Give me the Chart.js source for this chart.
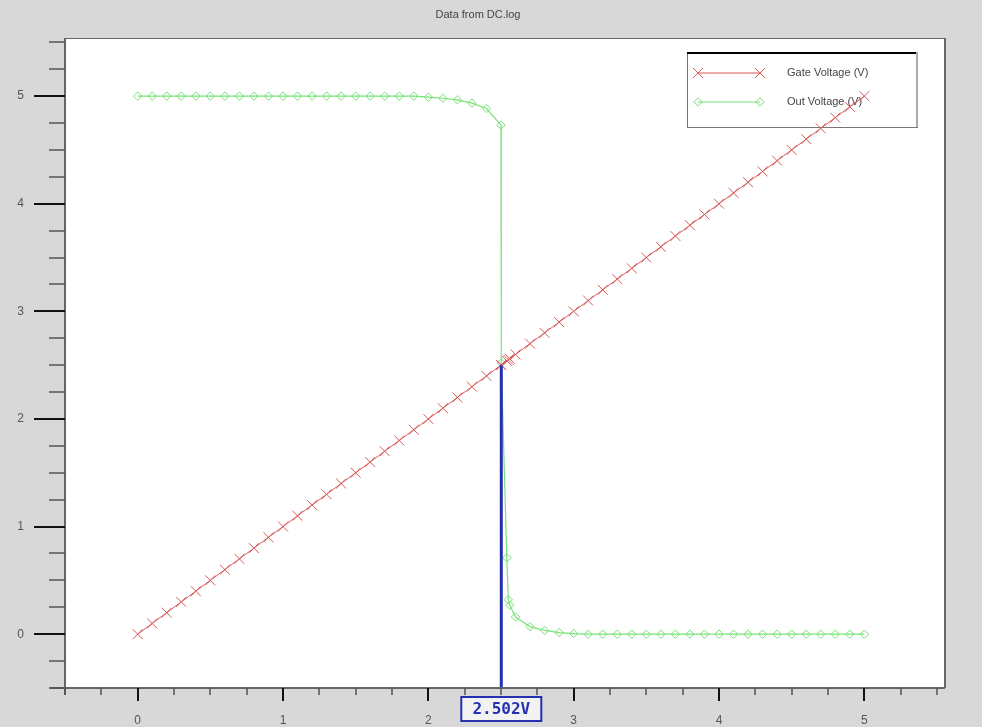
<!DOCTYPE html>
<html><head><meta charset="utf-8">
<script src="https://cdn.jsdelivr.net/npm/chart.js@4.4.0/dist/chart.umd.min.js"></script>
<style>html,body{margin:0;padding:0;background:#d8d8d8;}#wrap{width:982px;height:727px;}</style>
</head><body><div id="wrap"><canvas id="c" width="982" height="727"></canvas></div>
<script>
// ---- data ----
const titleText = 'Data from DC.log';
const sweepV = [0,0.1,0.2,0.3,0.4,0.5,0.6,0.7,0.8,0.9,1.0,1.1,1.2,1.3,1.4,1.5,1.6,1.7,1.8,1.9,
  2.0,2.1,2.2,2.3,2.4,2.5,2.502,2.54,2.55,2.56,2.6,2.7,2.8,2.9,3.0,
  3.1,3.2,3.3,3.4,3.5,3.6,3.7,3.8,3.9,4.0,4.1,4.2,4.3,4.4,4.5,4.6,4.7,4.8,4.9,5.0];
const gateV = [0,0.1,0.2,0.3,0.4,0.5,0.6,0.7,0.8,0.9,1.0,1.1,1.2,1.3,1.4,1.5,1.6,1.7,1.8,1.9,
  2.0,2.1,2.2,2.3,2.4,2.5,2.502,2.54,2.55,2.56,2.6,2.7,2.8,2.9,3.0,
  3.1,3.2,3.3,3.4,3.5,3.6,3.7,3.8,3.9,4.0,4.1,4.2,4.3,4.4,4.5,4.6,4.7,4.8,4.9,5.0];
const outV = [5,5,5,5,5,5,5,5,5,5,5,5,5,5,5,5,5,5,5,5,
  4.99,4.98,4.965,4.935,4.885,4.73,2.52,0.71,0.32,0.27,0.16,0.07,0.035,0.015,0.006,
  0,0,0,0,0,0,0,0,0,0,0,0,0,0,0,0,0,0,0,0];
const seriesNames = ['Gate Voltage (V)', 'Out Voltage (V)'];
const cursorX = [2.502, 2.502];
const cursorY = [2.5, -0.5];
const cursorUnit = 'V';
const xRange = [-0.5, 5.555];
const yRange = [-0.5, 5.54];
const majorStep = 1;
const minorStep = 0.25;

const RED = '#d85a5a', GREEN = '#78e278', BLUE = '#2430b0';

function pts(xs, ys){ return xs.map((x,i)=>({x:x, y:ys[i]})); }

const plotBg = {
  id:'plotBg',
  beforeDraw(chart){
    const {ctx, chartArea:a} = chart;
    ctx.save(); ctx.fillStyle='#ffffff';
    ctx.fillRect(a.left, a.top, a.right-a.left, a.bottom-a.top);
    ctx.restore();
  }
};

const boxLegend = {
  id:'boxLegend',
  beforeDatasetsDraw(chart){
    const {ctx, chartArea:a} = chart;
    const L = a.right - 258, T = a.top + 14, W = 230, H = 75;
    ctx.save();
    ctx.fillStyle='#fff'; ctx.fillRect(L,T,W,H);
    ctx.strokeStyle='#777'; ctx.lineWidth=1; ctx.strokeRect(L+0.5,T+0.5,W,H);
    ctx.strokeStyle='#000'; ctx.lineWidth=2; ctx.beginPath(); ctx.moveTo(L,T+1); ctx.lineTo(L+W,T+1); ctx.stroke();
    ctx.strokeStyle='#aaa'; ctx.lineWidth=2; ctx.beginPath(); ctx.moveTo(L+W,T); ctx.lineTo(L+W,T+H); ctx.stroke();
    const ds = chart.data.datasets.filter(d=>d.inLegend);
    ds.forEach((d,i)=>{
      const y = T + 21 + i*29;
      const x1 = L + 11, x2 = L + 73;
      ctx.strokeStyle=d.borderColor; ctx.lineWidth=1;
      ctx.beginPath(); ctx.moveTo(x1,y); ctx.lineTo(x2,y); ctx.stroke();
      [x1,x2].forEach(px=>{
        ctx.fillStyle='rgba(255,255,255,0)'; ctx.strokeStyle=d.borderColor; ctx.lineWidth=1;
        Chart.helpers.drawPoint(ctx, {pointStyle:d.pointStyle, radius:d.pointRadius, borderWidth:1, rotation:0}, px, y);
      });
      ctx.fillStyle='#444'; ctx.font='11px "Liberation Sans", Arial, sans-serif';
      ctx.textBaseline='middle'; ctx.textAlign='left';
      ctx.fillText(d.label, L + 100, y);
    });
    ctx.restore();
  }
};

const deco = {
  id:'deco',
  afterDraw(chart){
    const {ctx, chartArea:a, scales} = chart;
    const xs = scales.x, ys = scales.y;
    ctx.save();
    // frame
    ctx.strokeStyle='#666'; ctx.lineWidth=1;
    ctx.beginPath(); ctx.moveTo(a.left, a.top+0.5); ctx.lineTo(a.right, a.top+0.5); ctx.stroke();
    ctx.lineWidth=2;
    ctx.beginPath(); ctx.moveTo(a.left, a.top); ctx.lineTo(a.left, a.bottom+7); ctx.stroke();
    ctx.beginPath(); ctx.moveTo(a.right, a.top); ctx.lineTo(a.right, a.bottom); ctx.stroke();
    ctx.beginPath(); ctx.moveTo(a.left-15, a.bottom); ctx.lineTo(a.right, a.bottom); ctx.stroke();
    // tick marks (minor every 0.25, major every 1)
    function marks(scale, horiz){
      const start = Math.ceil(scale.min/minorStep - 1e-9);
      const end = Math.floor(scale.max/minorStep + 1e-9);
      for (let k=start; k<=end; k++){
        const v = k*minorStep;
        const major = Math.abs(v/majorStep - Math.round(v/majorStep)) < 1e-6;
        const p = Math.round(scale.getPixelForValue(v));
        ctx.strokeStyle = major ? '#111' : '#555'; ctx.lineWidth = major ? 2 : 1.5;
        ctx.beginPath();
        if (horiz){ ctx.moveTo(p, a.bottom); ctx.lineTo(p, a.bottom + (major?13:7)); }
        else { ctx.moveTo(a.left - (major?31:16), p); ctx.lineTo(a.left, p); }
        ctx.stroke();
      }
    }
    marks(ys,false); marks(xs,true);
    // cursor label
    const cx = xs.getPixelForValue(cursorX[0]);
    const bw = 80, bh = 24, by = a.bottom + 9;
    ctx.fillStyle='#f2f2f2'; ctx.fillRect(cx-bw/2, by, bw, bh);
    ctx.strokeStyle=BLUE; ctx.lineWidth=2; ctx.strokeRect(cx-bw/2, by, bw, bh);
    ctx.fillStyle=BLUE; ctx.font='bold 16px "DejaVu Sans Mono", monospace';
    ctx.textAlign='center'; ctx.textBaseline='middle';
    ctx.fillText(cursorX[0].toFixed(3)+cursorUnit, cx, by+bh/2+1);
    // title
    ctx.fillStyle='#444'; ctx.font='11px "Liberation Sans", Arial, sans-serif';
    ctx.textAlign='center'; ctx.textBaseline='middle';
    ctx.fillText(titleText, 478, 15);
    ctx.restore();
  }
};

new Chart(document.getElementById('c'), {
  type:'line',
  data:{ datasets:[
    { label:'cursor', data:pts(cursorX,cursorY), borderColor:BLUE, borderWidth:3, pointRadius:0, order:0, inLegend:false },
    { label:seriesNames[0], data:pts(sweepV,gateV), borderColor:RED, borderWidth:1,
      pointStyle:'crossRot', pointRadius:7, pointBorderColor:RED, pointBorderWidth:1, order:1, inLegend:true },
    { label:seriesNames[1], data:pts(sweepV,outV), borderColor:GREEN, borderWidth:1.2,
      pointStyle:'rectRot', pointRadius:4.2, pointBorderColor:GREEN, pointBackgroundColor:'rgba(255,255,255,0)', pointBorderWidth:1, order:2, inLegend:true }
  ]},
  options:{
    responsive:false, animation:false, events:[],
    layout:{ padding:{ top:38, right:37, left:0, bottom:0 } },
    plugins:{ legend:{display:false}, title:{display:false}, tooltip:{enabled:false} },
    scales:{
      x:{ type:'linear', min:xRange[0], max:xRange[1],
        grid:{display:false, drawTicks:true, tickLength:21}, border:{display:false},
        afterFit(s){ s.height = 39; },
        ticks:{ stepSize:majorStep, includeBounds:false, autoSkip:false, maxRotation:0, padding:4,
          color:'#555', font:{family:'"Liberation Sans", Arial, sans-serif', size:12} } },
      y:{ type:'linear', min:yRange[0], max:yRange[1],
        grid:{display:false, drawTicks:true, tickLength:37}, border:{display:false},
        afterFit(s){ s.width = 65; },
        ticks:{ stepSize:majorStep, includeBounds:false, autoSkip:false, padding:4,
          color:'#555', font:{family:'"Liberation Sans", Arial, sans-serif', size:12} } }
    }
  },
  plugins:[plotBg, boxLegend, deco]
});
</script></body></html>
